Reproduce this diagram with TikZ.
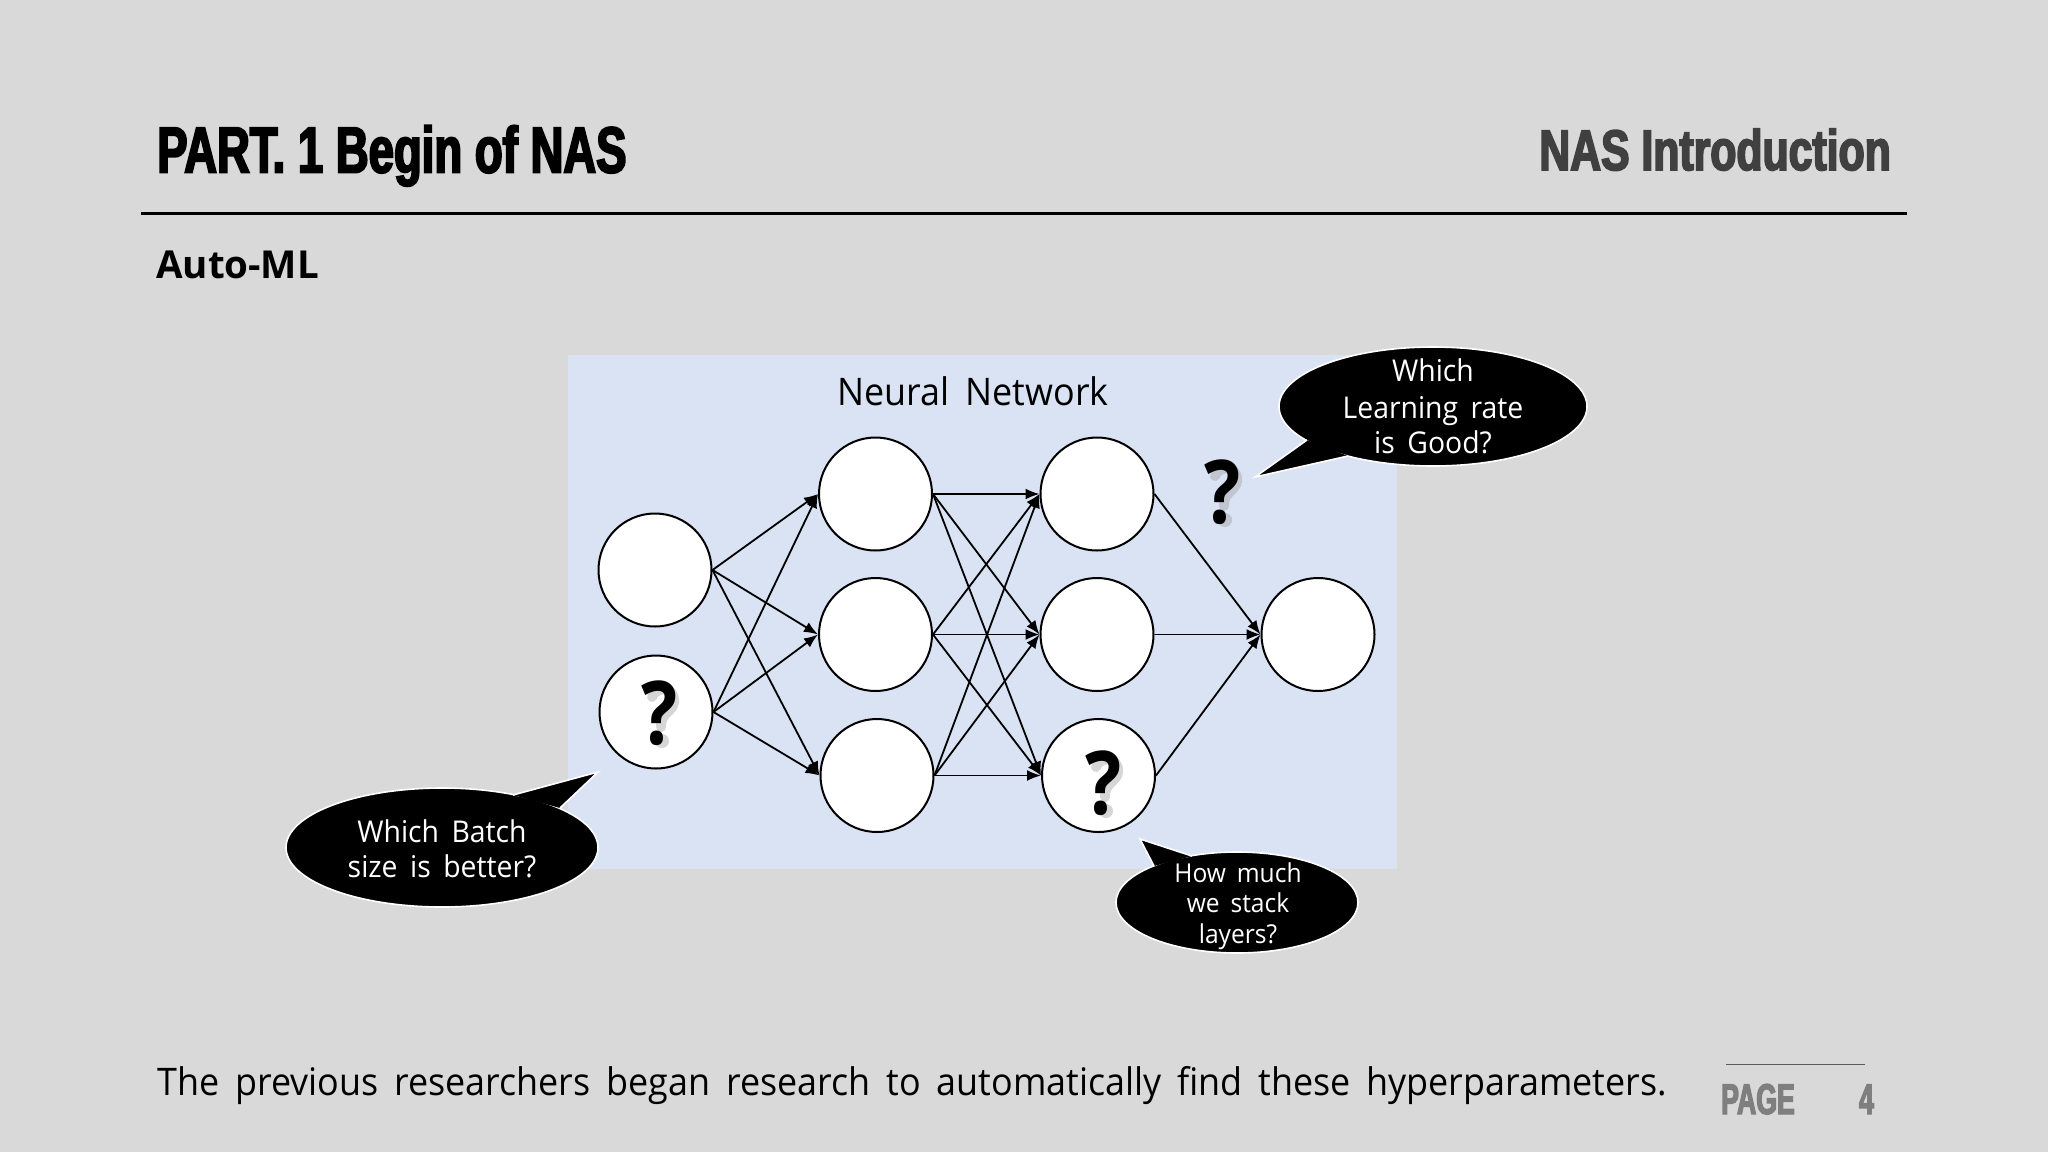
\documentclass[tikz,border=0pt]{standalone}
\usepackage{fontspec}
\usetikzlibrary{shapes.geometric,arrows.meta}
\setmainfont{Open Sans}
\newfontfamily\bodyfont[WordSpace=1.7,FakeStretch=0.945]{Open Sans}
\newfontfamily\qfont[UprightFont=* Bold,FakeStretch=0.86]{Open Sans}
\newfontfamily\impactfont[UprightFont=* Bold,FakeStretch=0.70,FakeBold=3]{Liberation Sans}
\newfontfamily\impactsub[UprightFont=* Bold,FakeStretch=0.75,FakeBold=3]{Liberation Sans}
\newfontfamily\impactpage[UprightFont=* Bold,FakeStretch=0.62,FakeBold=3]{Liberation Sans}
\definecolor{bgc}{HTML}{D9D9D9}
\definecolor{panel}{HTML}{DAE3F3}
\definecolor{subt}{HTML}{404040}
\definecolor{pagec}{HTML}{7F7F7F}
\definecolor{pagel}{HTML}{595959}
\tikzset{
  x=1pt,y=-1pt,
  neuron/.style={circle,draw=black,fill=white,line width=2pt,minimum size=113pt,inner sep=0pt},
  link/.style={draw=black,line width=1.8pt,-{Latex[length=14pt,width=11pt]}},
  txt/.style={inner sep=0pt,anchor=base west,text=black},
  bubble/.style={ellipse,fill=black,draw=white,line width=1.6pt,inner sep=0pt},
  btext/.style={inner sep=0pt,anchor=base,text=white,font=\bodyfont\fontsize{30}{36}\selectfont},
  qmark/.style={inner sep=0pt,anchor=center,text=black,font=\qfont\fontsize{88}{88}\selectfont},
}
\newcommand{\qshadow}[2]{%
  \begin{scope}[shift={(#1+3,#2+3)}]
    \draw[black!40,opacity=.4,line width=10pt,line cap=round]
      (-11,-19) .. controls (-7,-30) and (12,-30) .. (11,-14) .. controls (10,-4) and (-3,-3) .. (-2,11);
    \fill[black!40,opacity=.4] (-1,25) circle (7);
  \end{scope}}
\begin{document}
\begin{tikzpicture}
\useasboundingbox (0,0) rectangle (2048,1152);
\fill[bgc] (0,0) rectangle (2048,1152);
\fill[panel] (568,354.5) rectangle (1397,868.5);

% header
\node[txt,font=\impactfont\fontsize{65}{65}\selectfont] (title) at (157,172.5) {PART. 1 Begin of NAS};
\node[txt,font=\impactsub\fontsize{57}{57}\selectfont,text=subt,anchor=base east] (section) at (1891,170) {NAS Introduction};
\coordinate (ruleL) at (141,213);
\coordinate (ruleR) at (1907,213);
\draw[black,line width=3pt] (ruleL) -- (ruleR);
\node[txt,font=\fontsize{38.5}{38}\selectfont\bfseries] (auto) at (156,278) {Auto-ML};

% panel title
\node[txt,font=\bodyfont\fontsize{38}{38}\selectfont,anchor=base] (nn) at (973,405) {Neural Network};

% neurons
\node[neuron] (a1) at (655,570) {};
\node[neuron] (a2) at (656,712) {};
\node[neuron] (b1) at (875.5,494) {};
\node[neuron] (b2) at (875.5,634.5) {};
\node[neuron] (b3) at (877,775.5) {};
\node[neuron] (c1) at (1097,494) {};
\node[neuron] (c2) at (1097,634.5) {};
\node[neuron] (c3) at (1098.5,775.5) {};
\node[neuron] (d1) at (1318,634.5) {};

% connectors
\foreach \s in {a1,a2}\foreach \t in {b1,b2,b3}\draw[link] (\s.east) -- (\t.west);
\foreach \s in {b1,b2,b3}\foreach \t in {c1,c2,c3}\draw[link] (\s.east) -- (\t.west);
\foreach \s in {c1,c2,c3}\draw[link] (\s.east) -- (d1.west);

% question marks
\qshadow{660}{713}
\qshadow{1104}{783}
\qshadow{1223}{492}
\node[qmark] (q1) at (660,713) {?};
\node[qmark] (q2) at (1104,783) {?};
\node[qmark] (q3) at (1223,492) {?};

% speech bubbles
\node[bubble,minimum width=308pt,minimum height=119pt] (lr) at (1433,406.5) {};
\coordinate (lrTip) at (1255,477);
\coordinate (lrA) at (1307,440);
\coordinate (lrB) at (1348,456);
\fill[black] (lrA) -- (lrTip) -- (lrB) -- cycle;
\draw[white,line width=1.6pt,line join=miter] (lrA) -- (lrTip) -- (lrB);
\node[btext] (lr1) at (1433,381.5) {Which};
\node[btext] (lr2) at (1433,418) {Learning rate};
\node[btext] (lr3) at (1433,453.5) {is Good?};

\node[bubble,minimum width=312pt,minimum height=119pt] (bs) at (442,847.5) {};
\coordinate (bsTip) at (598,772);
\coordinate (bsA) at (513,795);
\coordinate (bsB) at (560,808);
\fill[black] (bsA) -- (bsTip) -- (bsB) -- cycle;
\draw[white,line width=1.6pt] (bsA) -- (bsTip) -- (bsB);
\node[btext] (bs1) at (442,842) {Which Batch};
\node[btext] (bs2) at (442,877.5) {size is better?};

\node[bubble,minimum width=242pt,minimum height=101pt] (sl) at (1237,902.5) {};
\coordinate (slTip) at (1140,839);
\coordinate (slA) at (1154,866);
\coordinate (slB) at (1192,856);
\fill[black] (slA) -- (slTip) -- (slB) -- cycle;
\draw[white,line width=1.6pt] (slA) -- (slTip) -- (slB);
\node[btext,font=\bodyfont\fontsize{26}{30}\selectfont] (sl1) at (1238,882) {How much};
\node[btext,font=\bodyfont\fontsize{26}{30}\selectfont] (sl2) at (1238,912) {we stack};
\node[btext,font=\bodyfont\fontsize{26}{30}\selectfont] (sl3) at (1238,943) {layers?};

% footer
\node[txt,font=\bodyfont\fontsize{38}{38}\selectfont] (foot) at (157,1095) {The previous researchers began research to automatically find these hyperparameters.};
\coordinate (pgL) at (1726,1064.5);
\coordinate (pgR) at (1865,1064.5);
\draw[pagel,line width=1.5pt] (pgL) -- (pgR);
\node[txt,font=\impactpage\fontsize{43}{43}\selectfont,text=pagec] (page) at (1721,1114) {PAGE};
\node[txt,font=\impactpage\fontsize{43}{43}\selectfont,text=pagec,anchor=base east] (num) at (1874,1114) {4};
\end{tikzpicture}
\end{document}
